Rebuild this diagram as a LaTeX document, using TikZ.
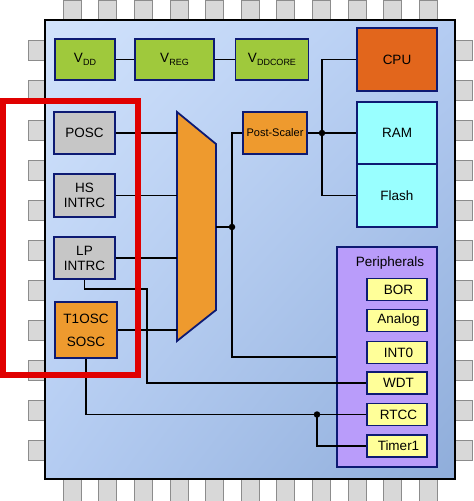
\documentclass[tikz,border=0pt]{standalone}
\usepackage{fontspec}
\setmainfont{Liberation Sans}
\usepackage{tikz}
\usetikzlibrary{positioning, calc, shadings}
\usepackage{xcolor}
\definecolor{navy}{HTML}{0D1A73}
\definecolor{pwrgreen}{HTML}{9FC93C}
\definecolor{oscgray}{HTML}{C6C6C6}
\definecolor{orng}{HTML}{EE9A2E}
\definecolor{cpured}{HTML}{E2661C}
\definecolor{memcyan}{HTML}{99FFFF}
\definecolor{perpurple}{HTML}{B99CFA}
\definecolor{peryellow}{HTML}{FFFF99}
\definecolor{pingray}{HTML}{D8D8D8}
\definecolor{hilite}{HTML}{E00000}
\definecolor{dieA}{HTML}{D2E3FC}
\definecolor{dieB}{HTML}{B4CCF2}
\definecolor{dieC}{HTML}{8FADDA}

\newcommand{\subtxt}[1]{\raisebox{-2.5pt}{\fontsize{9}{9}\selectfont #1}}

\begin{document}
\begin{tikzpicture}[
  x=1pt, y=-1pt,
  every node/.style={font=\fontsize{13.5}{15}\selectfont, text=black, align=center},
  blk/.style={draw=navy, line width=1.8pt, inner sep=0pt},
  pwr/.style={blk, fill=pwrgreen, minimum height=41pt},
  osc/.style={blk, fill=oscgray, minimum width=61pt, minimum height=42pt},
  mem/.style={blk, fill=memcyan, minimum width=80pt, minimum height=62pt},
  sub/.style={blk, fill=peryellow, minimum width=60pt, minimum height=22pt},
  pin/.style={draw=black!45, fill=pingray, line width=0.6pt},
  wire/.style={draw=black, line width=1.6pt},
  dot/.style={circle, fill=black, inner sep=0pt, minimum size=6.5pt},
]
  \useasboundingbox (0,0) rectangle (474,501);
  % pins
  \foreach \i in {0,...,10} {
    \draw[pin] ($(63,0)+(35.6*\i,0)$) rectangle ++(18,20);
    \draw[pin] ($(63,479)+(35.6*\i,0)$) rectangle ++(18,22);
    \draw[pin] ($(28,40)+(0,40*\i)$) rectangle ++(17,20);
    \draw[pin] ($(455,40)+(0,40*\i)$) rectangle ++(17,20);
  }
  % chip body
  \draw[line width=2.6pt, upper left=dieA, upper right=dieB,
        lower left=dieB, lower right=dieC]
    (45,20) rectangle (455,479);
  % power
  \node[pwr, minimum width=60pt] (vdd) at (85,59.5) {V\subtxt{DD}};
  \node[pwr, minimum width=79pt] (vreg) at (174.5,59.5) {V\subtxt{REG}};
  \node[pwr, minimum width=73pt] (vcore) at (272,59.5) {V\subtxt{DDCORE}};
  % cpu and memory
  \node[blk, fill=cpured, minimum width=80pt, minimum height=63pt] (cpu) at (397,59.5) {CPU};
  \node[mem] (ram) at (397,133) {RAM};
  \node[mem, minimum height=63pt] (flash) at (397,195.5) {Flash};
  \node[blk, fill=orng, minimum width=64pt, minimum height=42pt,
        font=\fontsize{11}{12}\selectfont] (ps) at (275,133) {Post-Scaler};
  % oscillators
  \node[osc] (posc) at (84.5,133) {POSC};
  \node[osc, minimum height=43pt, font=\fontsize{13.5}{15}\selectfont] (hs) at (84.5,195.5) {HS\\INTRC};
  \node[osc, font=\fontsize{13.5}{15}\selectfont] (lp) at (84.5,258) {LP\\INTRC};
  \node[blk, fill=orng, minimum width=62pt, minimum height=56pt,
        font=\fontsize{13.5}{23}\selectfont] (t1) at (86,330) {T1OSC\\SOSC};
  % clock mux
  \draw[draw=navy, line width=1.8pt, fill=orng] (177,112) -- (216,144) -- (216,310) -- (177,341) -- cycle;
  \coordinate (mxw) at (177,227);
  \coordinate (mxe) at (216,227);
  % peripherals
  \node[blk, fill=perpurple, minimum width=100pt, minimum height=220pt] (periph) at (387,357) {};
  \node[anchor=north] (ptitle) at (390,253) {Peripherals};
  \node[sub] (bor) at (397,289.5) {\hspace{3pt}BOR};
  \node[sub] (ana) at (397,320.5) {\hspace{3pt}Analog};
  \node[sub] (int0) at (397,352.5) {\hspace{3pt}INT0};
  \node[sub] (wdt) at (397,383) {\hspace{3pt}WDT};
  \node[sub] (rtcc) at (397,414.5) {\hspace{3pt}RTCC};
  \node[sub] (tmr) at (397,446) {\hspace{3pt}Timer1};
  % junctions
  \coordinate (j1) at (232,227);
  \coordinate (j2) at (322,133);
  \coordinate (j3) at (317,414.5);
  \coordinate (lpk) at (147,289);
  % wires
  \draw[wire] (vdd) -- (vreg);
  \draw[wire] (vreg) -- (vcore);
  \draw[wire] (posc.east) -- (posc.east -| mxw);
  \draw[wire] (hs.east) -- (hs.east -| mxw);
  \draw[wire] (lp.east) -- (lp.east -| mxw);
  \draw[wire] (t1.east) -- (t1.east -| mxw);
  \draw[wire] (mxe) -- (j1);
  \draw[wire] (j1) |- (ps.west);
  \draw[wire] (j1) |- (periph.west);
  \draw[wire] (ps.east) -- (j2) -- (ram.west);
  \draw[wire] (cpu.west) -| (j2) |- (flash.west);
  \draw[wire] (lp.south) |- (lpk) |- (wdt.west);
  \draw[wire] (t1.south) |- (rtcc.west);
  \draw[wire] (j3) |- (tmr.west);
  \node[dot] (d1) at (j1) {};
  \node[dot] (d2) at (j2) {};
  \node[dot] (d3) at (j3) {};
  % highlight
  \draw[hilite, line width=6pt] (3,101) rectangle (138,375);
\end{tikzpicture}
\end{document}
